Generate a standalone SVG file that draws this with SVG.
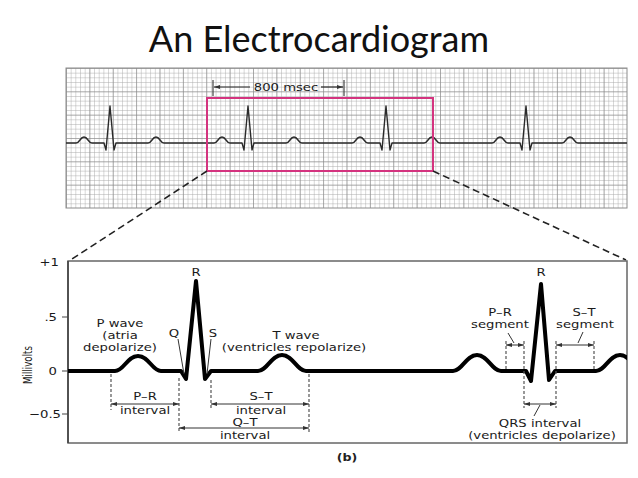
<svg xmlns="http://www.w3.org/2000/svg" width="638" height="478" viewBox="0 0 638 478">
<style>
.lbl{font-family:"DejaVu Sans","Liberation Sans",sans-serif;font-size:11px;fill:#1a1a1a;text-anchor:middle}
.ax{font-family:"DejaVu Sans","Liberation Sans",sans-serif;font-size:11px;fill:#1a1a1a;text-anchor:end}
.dash{stroke:#555;stroke-width:1.2;stroke-dasharray:3 2;fill:none}
.arr{stroke:#333;stroke-width:1;fill:none;marker-start:url(#ah);marker-end:url(#ah)}
.lead{stroke:#333;stroke-width:1;fill:none}
.tick{stroke:#444;stroke-width:1.2}
</style>
<defs>
<pattern id="minor" patternUnits="userSpaceOnUse" x="66" y="68" width="4.675" height="4.667">
<path d="M0,0 V4.667 M0,0 H4.675" stroke="#a9a9a9" stroke-width="0.9" fill="none"/>
</pattern>
<pattern id="major" patternUnits="userSpaceOnUse" x="66" y="68" width="23.375" height="23.333">
<path d="M0,0 V23.333 M0,0 H23.375" stroke="#848484" stroke-width="1.1" fill="none"/>
</pattern>
<marker id="ah" viewBox="0 0 10 10" refX="10" refY="5" markerWidth="6" markerHeight="6" markerUnits="userSpaceOnUse" orient="auto-start-reverse">
<path d="M0,1.5 L10,5 L0,8.5 Z" fill="#333"/>
</marker>
<clipPath id="panelclip"><rect x="68" y="261" width="559" height="182"/></clipPath>
</defs>
<rect width="638" height="478" fill="#fff"/>
<text id="title" x="319" y="52" font-family="Lato,'Open Sans',sans-serif" font-size="36" fill="#111" text-anchor="middle">An Electrocardiogram</text>

<g id="strip">
<rect x="66" y="68" width="561" height="140" fill="url(#minor)"/>
<rect x="66" y="68" width="561" height="140" fill="url(#major)"/>
<rect x="66" y="68" width="561" height="140" fill="none" stroke="#8c8c8c" stroke-width="1"/>
<path d="M66,143 H76 C80,143 80,137 84,137 C88,137 88,143 92,143 H104 L106,150 L110,106 L114,150 L116,143 H148 C152,143 152,137 156,137 C160,137 160,143 164,143 H214 C218,143 218,137 222,137 C226,137 226,143 230,143 H242 L244,150 L248,106 L252,150 L254,143 H286 C290,143 290,137 294,137 C298,137 298,143 302,143 H352 C356,143 356,137 360,137 C364,137 364,143 368,143 H380 L382,150 L386,106 L390,150 L392,143 H424 C428,143 428,137 432,137 C436,137 436,143 440,143 H492 C496,143 496,137 500,137 C504,137 504,143 508,143 H520 L522,150 L526,106 L530,150 L532,143 H562 C566,143 566,137 570,137 C574,137 574,143 578,143 H627" fill="none" stroke="#2a2a2a" stroke-width="1.4" stroke-linejoin="round"/>
</g>

<g id="zoom-box">
<rect x="207" y="98" width="226" height="73" fill="none" stroke="#d4347f" stroke-width="2"/>
</g>

<g id="measure-800">
<path class="tick" d="M213,80 V96 M344,80 V96"/>
<line x1="250" y1="87" x2="214" y2="87" stroke="#222" stroke-width="1.2" marker-end="url(#ah)"/>
<line x1="321" y1="87" x2="343" y2="87" stroke="#222" stroke-width="1.2" marker-end="url(#ah)"/>
<text class="lbl" transform="translate(286,91) scale(1.2,1)">800 msec</text>
</g>

<g id="connectors">
<line x1="207" y1="171" x2="69" y2="261" stroke="#222" stroke-width="1.6" stroke-dasharray="7 4"/>
<line x1="433" y1="171" x2="626" y2="260" stroke="#222" stroke-width="1.6" stroke-dasharray="7 4"/>
</g>

<g id="panel">
<rect x="68" y="261" width="559" height="182" fill="none" stroke="#666" stroke-width="1.5"/>
<line x1="68" y1="261" x2="68" y2="443" stroke="#444" stroke-width="1.6"/>
<path class="tick" d="M62,317 H68 M62,371 H68 M62,414 H68"/>
<text class="ax" transform="translate(59,266) scale(1.2,1)">+1</text>
<text class="ax" transform="translate(57,321) scale(1.2,1)">.5</text>
<text class="ax" transform="translate(57,375) scale(1.2,1)">0</text>
<text class="ax" transform="translate(61,418) scale(1.2,1)">−0.5</text>
<text transform="translate(32,365) rotate(-90)" font-family="'DejaVu Sans','Liberation Sans',sans-serif" font-size="11.5" fill="#1a1a1a" text-anchor="middle" textLength="38" lengthAdjust="spacingAndGlyphs">Millivolts</text>
<text transform="translate(347,461) scale(1.2,1)" font-family="'DejaVu Sans','Liberation Sans',sans-serif" font-size="10.5" font-weight="bold" fill="#222" text-anchor="middle">(b)</text>
</g>

<g id="trace" clip-path="url(#panelclip)">
<path d="M68,371 H115 C124,371 127,356 138,356 C149,356 152,371 161,371 H181 L186,379 L196,281 L205,379 L211,371 H258 C267,371 271,355 282,355 C293,355 297,371 306,371 H453 C462,371 466,355 477,355 C488,355 492,371 501,371 H526 L531,381 L541,284 L549,380 L555,371 H596 C605,371 609,355 620,355 C626,355 628,359 632,362" fill="none" stroke="#000" stroke-width="4" stroke-linejoin="round" stroke-linecap="round"/>
</g>

<g id="wave-labels">
<text class="lbl" transform="translate(196,276) scale(1.2,1)">R</text>
<text class="lbl" transform="translate(541,276) scale(1.2,1)">R</text>
<text class="lbl" transform="translate(174,337) scale(1.2,1)">Q</text>
<text class="lbl" transform="translate(213,337) scale(1.2,1)">S</text>
<path class="lead" d="M178,339 L184,374 M211,339 L207,374"/>
<text class="lbl" transform="translate(120,327) scale(1.2,1)">P wave</text>
<text class="lbl" transform="translate(120,339) scale(1.2,1)">(atria</text>
<text class="lbl" transform="translate(120,351) scale(1.2,1)">depolarize)</text>
<text class="lbl" transform="translate(296,339) scale(1.2,1)">T wave</text>
<text class="lbl" transform="translate(294,351) scale(1.2,1)">(ventricles repolarize)</text>
</g>

<g id="intervals">
<path class="dash" d="M111,374 V410 M179,378 V432 M211,380 V410 M309,374 V432"/>
<line class="arr" x1="111" y1="404" x2="179" y2="404"/>
<line class="arr" x1="211" y1="404" x2="309" y2="404"/>
<line class="arr" x1="179" y1="428" x2="309" y2="428"/>
<text class="lbl" transform="translate(145,400) scale(1.2,1)">P–R</text>
<text class="lbl" transform="translate(145,414) scale(1.2,1)">interval</text>
<text class="lbl" transform="translate(261,400) scale(1.2,1)">S–T</text>
<text class="lbl" transform="translate(261,414) scale(1.2,1)">interval</text>
<text class="lbl" transform="translate(245,426) scale(1.2,1)">Q–T</text>
<text class="lbl" transform="translate(245,439) scale(1.2,1)">interval</text>
</g>

<g id="segments">
<path class="dash" d="M506,341 V371 M524,341 V408 M556,341 V408 M594,341 V371"/>
<line class="arr" x1="506" y1="345" x2="524" y2="345"/>
<line class="arr" x1="556" y1="345" x2="594" y2="345"/>
<line class="arr" x1="524" y1="404" x2="556" y2="404"/>
<path class="lead" d="M508,333 L514,343 M583,332 L578,343 M540,405 L534,416"/>
<text class="lbl" transform="translate(500,316) scale(1.2,1)">P–R</text>
<text class="lbl" transform="translate(500,328) scale(1.2,1)">segment</text>
<text class="lbl" transform="translate(584,316) scale(1.2,1)">S–T</text>
<text class="lbl" transform="translate(585,328) scale(1.2,1)">segment</text>
<text class="lbl" transform="translate(540,427) scale(1.2,1)">QRS interval</text>
<text class="lbl" transform="translate(542,439) scale(1.2,1)">(ventricles depolarize)</text>
</g>
</svg>
